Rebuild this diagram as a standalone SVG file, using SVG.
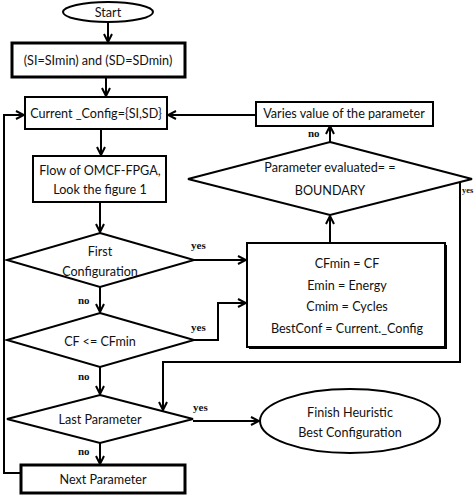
<svg xmlns="http://www.w3.org/2000/svg" width="474" height="500" viewBox="0 0 474 500">
<defs>
<marker id="ah" markerWidth="10" markerHeight="10" refX="9" refY="5" orient="auto" markerUnits="userSpaceOnUse">
<path d="M1,1 L9,5 L1,9" fill="none" stroke="#000" stroke-width="2"/>
</marker>
<style>
.t{font-family:Lato,"Open Sans","Liberation Sans",sans-serif;font-size:12.6px;fill:#111;text-anchor:middle}
.l{font-family:"Liberation Serif",serif;font-size:11px;font-weight:bold;fill:#111}
.b{fill:#fff;stroke:#000;stroke-width:2}
.bt{fill:#fff;stroke:#000;stroke-width:3}
.c{fill:none;stroke:#000;stroke-width:2}
</style>
</defs>
<rect width="474" height="500" fill="#fff"/>
<g id="connectors">
<line class="c" x1="108" y1="22" x2="108" y2="42" marker-end="url(#ah)"/>
<line class="c" x1="106" y1="77" x2="106" y2="96" marker-end="url(#ah)"/>
<line class="c" x1="101" y1="129" x2="101" y2="155" marker-end="url(#ah)"/>
<line class="c" x1="100" y1="202" x2="100" y2="232" marker-end="url(#ah)"/>
<line class="c" x1="100" y1="287" x2="100" y2="312" marker-end="url(#ah)"/>
<line class="c" x1="100" y1="367" x2="100" y2="394" marker-end="url(#ah)"/>
<line class="c" x1="100" y1="443" x2="100" y2="464" marker-end="url(#ah)"/>
<polyline class="c" points="20,473 4,473 4,115 24,115" marker-end="url(#ah)"/>
<line class="c" x1="256" y1="115" x2="168" y2="115" marker-end="url(#ah)"/>
<line class="c" x1="330" y1="142" x2="330" y2="126" marker-end="url(#ah)"/>
<line class="c" x1="330" y1="243" x2="330" y2="216" marker-end="url(#ah)"/>
<line class="c" x1="194" y1="260" x2="246" y2="260" marker-end="url(#ah)"/>
<polyline class="c" points="194,340 218,340 218,303 246,303" marker-end="url(#ah)"/>
<polyline class="c" points="460,182 460,362 163,362 163,410" marker-end="url(#ah)"/>
<line class="c" x1="193" y1="421" x2="259" y2="421" marker-end="url(#ah)"/>
<text class="l" x="191" y="249">yes</text>
<text class="l" x="191" y="331">yes</text>
<text class="l" x="193" y="411">yes</text>
<text class="l" x="462" y="193" style="font-size:8.5px">yes</text>
<text class="l" x="78" y="304">no</text>
<text class="l" x="78" y="380">no</text>
<text class="l" x="78" y="455">no</text>
<text class="l" x="308" y="137">no</text>
</g>
<g id="start">
<ellipse cx="108" cy="12" rx="45" ry="10" class="b"/>
<text class="t" x="108" y="17">Start</text>
</g>
<g id="init">
<rect x="12" y="43" width="173" height="34" class="bt"/>
<text class="t" x="98" y="65">(SI=SImin) and (SD=SDmin)</text>
</g>
<g id="current">
<rect x="25" y="97" width="142" height="32" class="b"/>
<text class="t" x="96" y="118">Current _Config={SI,SD}</text>
</g>
<g id="flow">
<rect x="33" y="156" width="133" height="46" class="b"/>
<text class="t" x="100" y="175">Flow of OMCF-FPGA,</text>
<text class="t" x="100" y="194">Look  the figure 1</text>
</g>
<g id="varies">
<rect x="256" y="102" width="177" height="24" class="b"/>
<text class="t" x="344" y="118">Varies value of the parameter</text>
</g>
<g id="boundary">
<polygon points="330,142 472,179 330,215 188,179" class="b"/>
<text class="t" x="330" y="172">Parameter evaluated= =</text>
<text class="t" x="330" y="195">BOUNDARY</text>
</g>
<g id="first">
<polygon points="100,233 194,260 100,287 7,260" class="b"/>
<text class="t" x="100" y="256">First</text>
<text class="t" x="100" y="276">Configuration</text>
</g>
<g id="cfmin">
<rect x="247" y="243" width="198" height="104" class="b"/>
<polyline points="249,348 446,348 446,245" fill="none" stroke="#000" stroke-width="2"/>
<text class="t" x="347" y="268">CFmin = CF</text>
<text class="t" x="347" y="290">Emin = Energy</text>
<text class="t" x="347" y="311">Cmim = Cycles</text>
<text class="t" x="347" y="333">BestConf = Current._Config</text>
</g>
<g id="cf">
<polygon points="100,313 194,340 100,367 7,340" class="b"/>
<text class="t" x="100" y="346">CF &lt;= CFmin</text>
</g>
<g id="last">
<polygon points="100,395 193,419 100,443 7,419" class="b"/>
<text class="t" x="100" y="424">Last Parameter</text>
</g>
<g id="finish">
<ellipse cx="350" cy="421" rx="90" ry="32" class="b"/>
<text class="t" x="350" y="417">Finish Heuristic</text>
<text class="t" x="350" y="437">Best Configuration</text>
</g>
<g id="next">
<rect x="21" y="465" width="164" height="28" class="bt"/>
<text class="t" x="103" y="484">Next Parameter</text>
</g>
</svg>
